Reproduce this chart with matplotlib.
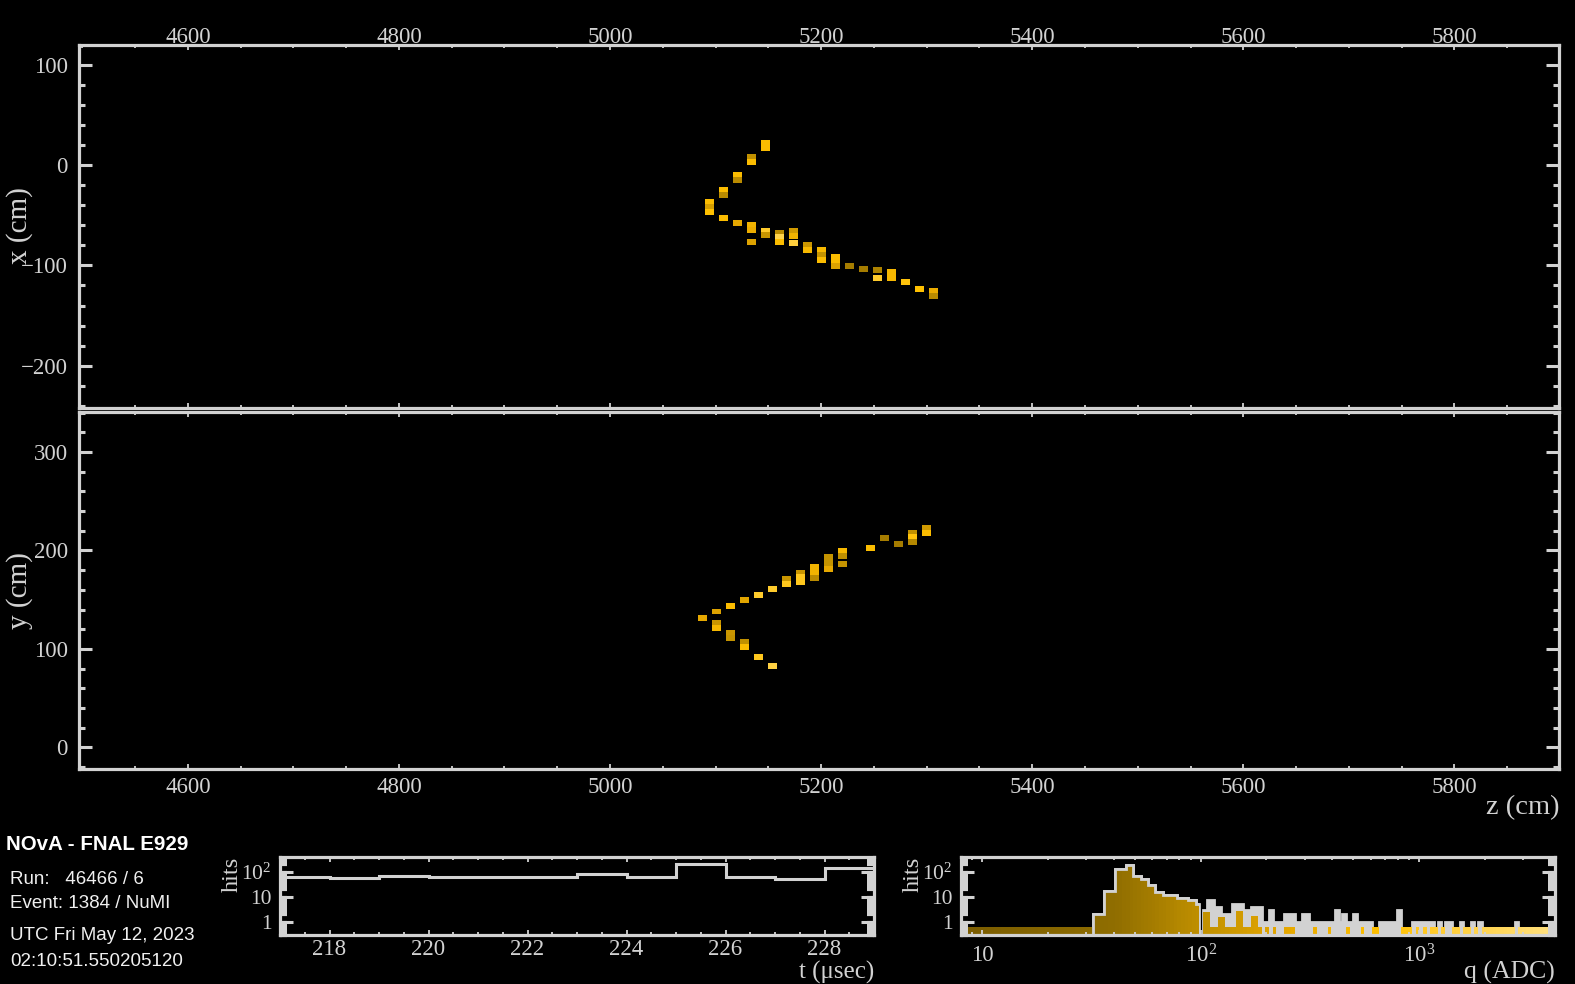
# NOvA event display: xz and yz views plus timing and charge histograms
import matplotlib
matplotlib.use("Agg")
import matplotlib.pyplot as plt
import numpy as np
from matplotlib.colors import LinearSegmentedColormap, LogNorm
from matplotlib.ticker import MultipleLocator, LogLocator, NullFormatter

W, H = 1575, 984
GREY = "#d2d2d2"
SERIF = "Liberation Serif"
SANS = "Liberation Sans"

# xz view hits: plane z, cell x, charge
xz_z = [5147.5, 5147.5, 5134.3, 5134.3, 5121.0, 5121.0, 5107.8, 5107.8, 5094.5, 5094.5, 5094.5,
        5107.8, 5121.0, 5134.3, 5134.3, 5134.3, 5147.5, 5147.5, 5160.8, 5160.8, 5160.8,
        5174.0, 5174.0, 5174.0, 5187.3, 5187.3, 5200.6, 5200.6, 5200.6, 5213.8, 5213.8, 5213.8,
        5227.0, 5240.3, 5253.6, 5253.6, 5266.8, 5266.8, 5280.0, 5293.3, 5306.6, 5306.6]
xz_x = [22.2, 17.7, 8.0, 3.1, -9.9, -14.3, -24.3, -29.3, -36.6, -41.3, -46.3,
        -52.6, -57.6, -60.0, -65.0, -76.6, -65.6, -69.6, -67.6, -72.0, -77.0,
        -66.0, -71.0, -77.6, -79.6, -84.3, -84.6, -89.3, -94.3, -92.0, -96.3, -100.6,
        -101.0, -104.0, -105.0, -113.0, -107.0, -112.3, -117.0, -123.6, -125.0, -130.0]
xz_q = [600, 600, 100, 600, 600, 90, 600, 90, 600, 170, 700,
        600, 250, 400, 300, 200, 1200, 120, 90, 1800, 600,
        150, 400, 1500, 130, 500, 500, 110, 600, 600, 600, 200,
        60, 60, 70, 1200, 500, 500, 800, 700, 300, 90]

# yz view hits
yz_z = [5088.0, 5101.3, 5101.3, 5101.3, 5114.5, 5114.5, 5114.5, 5127.8, 5127.8, 5127.8,
        5141.0, 5141.0, 5154.3, 5154.3, 5167.6, 5167.6, 5180.8, 5180.8, 5180.8,
        5194.0, 5194.0, 5194.0, 5207.3, 5207.3, 5207.3, 5220.6, 5220.6, 5220.6,
        5247.0, 5260.3, 5273.6, 5286.8, 5286.8, 5286.8, 5300.0, 5300.0]
yz_y = [131.6, 138.0, 125.9, 121.5, 143.2, 115.7, 110.6, 149.2, 106.6, 101.8,
        154.3, 91.3, 160.8, 82.2, 170.6, 165.5, 177.4, 172.6, 168.2,
        182.8, 177.7, 171.6, 193.0, 186.9, 180.8, 199.0, 194.3, 186.2,
        202.4, 212.6, 206.2, 217.7, 213.6, 208.9, 222.8, 218.0]
yz_q = [250, 200, 130, 500, 600, 130, 110, 220, 100, 600,
        1200, 1000, 1200, 1600, 130, 1000, 130, 1000, 1000,
        400, 400, 90, 110, 110, 250, 500, 100, 110,
        600, 60, 60, 100, 800, 80, 150, 600]

# hits vs time, one bin per usec
t_edges = [217, 218, 219, 220, 221, 222, 223, 224, 225, 226, 227, 228, 229]
t_hits = [63, 54, 67, 60, 64, 64, 83, 61, 197, 64, 50, 137]

# hits vs charge: all hits (grey) and hits in the window (coloured)
q_all = ([0] * 36 + [2] * 3 + [17] * 3 + [128] * 3 + [186] * 2 + [69] * 2 + [51] * 2 + [29] * 2
         + [16] * 2 + [12] * 4 + [9] * 3 + [7] * 2 + [5] + [0] + [3] + [7] * 2 + [4] * 2 + [2] * 3
         + [5] * 3 + [3] * 2 + [4] * 3 + [1] * 2 + [3] + [1] * 3 + [2] * 3 + [1] * 2 + [2] * 2
         + [1] * 7 + [3] + [1] + [2] + [1] * 2 + [2] + [1] * 4 + [0] * 2 + [1] * 5 + [3] + [0] * 3
         + [1] * 6 + [0] + [1] + [0] + [1] * 2 + [0] * 2 + [1] + [0] * 2 + [1] + [0] + [1]
         + [0] * 9 + [1] + [0] * 10)
F = 0.58  # level the coloured histogram is drawn at for low bins
q_sel = ([F] * 36 + [2] * 3 + [17] * 3 + [128] * 3 + [186] * 2 + [69] * 2 + [51] * 2 + [29] * 2
         + [16] * 2 + [12] * 4 + [9] * 3 + [7] * 2 + [5] + [0] + [2.5] * 2 + [F] * 2 + [1.5] * 2
         + [F] * 3 + [2.7] * 2 + [F] * 2 + [1.6] * 2 + [F] + [0] + [F] + [0] + [F] + [0] * 2
         + [F] * 3 + [0] * 3 + [0] * 2 + [F] + [0] * 3 + [F] + [0] * 4 + [F] + [0] * 3 + [F] + [0] * 2
         + [F] * 2 + [0] * 6 + [F] * 3 + [0, F] * 3 + [F] + [0]
         + [F] + [0] * 2 + [F] * 2 + [0] + [F] * 2 + [0] + [F] + [0] + [F] * 9 + [0] + [F] * 10)
q_edges = np.geomspace(8, 4190, len(q_all) + 1)

plt.rcParams["font.family"] = [SERIF, "DejaVu Serif"]
plt.rcParams["mathtext.fontset"] = "custom"
plt.rcParams["mathtext.rm"] = SERIF
plt.rcParams["mathtext.default"] = "rm"

cmap = LinearSegmentedColormap.from_list("charge", [
    (0.0, "#7a5c00"), (0.257, "#8f6d00"), (0.4035, "#c09000"), (0.55, "#e6a800"),
    (0.715, "#ffc000"), (0.84, "#ffd040"), (1.0, "#ffe080")])
norm = LogNorm(8, 4190)


def px_axes(fig, left, right, top, bottom):
    return fig.add_axes([left / W, 1 - bottom / H, (right - left) / W, (bottom - top) / H])


def px_text(fig, x, y, s, **kw):
    kw.setdefault("color", GREY)
    kw.setdefault("va", "center")
    return fig.text(x / W, 1 - y / H, s, **kw)


def style(ax, ysize=16.5, ylen=(9.5, 4.5), ywidth=2.2, yminwidth=2.2):
    ax.set_facecolor("black")
    for sp in ax.spines.values():
        sp.set_color(GREY)
        sp.set_linewidth(2.3)
    ax.tick_params(axis="x", which="major", direction="in", top=True, bottom=True, length=3.5,
                   width=1.3, color=GREY, labelcolor=GREY, labelsize=16.5)
    ax.tick_params(axis="x", which="minor", direction="in", top=True, bottom=True, length=2.5,
                   width=1.3, color=GREY)
    ax.tick_params(axis="y", which="major", direction="in", left=True, right=True, length=ylen[0],
                   width=ywidth, color=GREY, labelcolor=GREY, labelsize=ysize, pad=8)
    ax.tick_params(axis="y", which="minor", direction="in", left=True, right=True, length=ylen[1],
                   width=yminwidth, color=GREY)


def draw_hits(ax, z, v, q):
    z = np.array(z)
    v = np.array(v)
    ax.bar(z, 6.0, width=8.5, bottom=v - 3.0, color=cmap(norm(np.array(q))), linewidth=0)


fig = plt.figure(figsize=(W / 100, H / 100), dpi=100, facecolor="black")

ax_x = px_axes(fig, 79, 1559, 45.5, 408)
ax_y = px_axes(fig, 79, 1559, 412, 769)
for ax, ylim, ymaj in ((ax_x, (-242.4, 119.8), [-200, -100, 0, 100]), (ax_y, (-22, 340.6), [0, 100, 200, 300])):
    style(ax)
    ax.set_xlim(4496.9, 5899)
    ax.set_ylim(*ylim)
    ax.set_yticks(ymaj)
    ax.xaxis.set_major_locator(MultipleLocator(200))
    ax.xaxis.set_minor_locator(MultipleLocator(50))
    ax.yaxis.set_minor_locator(MultipleLocator(20))
draw_hits(ax_x, xz_z, xz_x, xz_q)
draw_hits(ax_y, yz_z, yz_y, yz_q)
ax_x.tick_params(axis="x", which="major", labeltop=True, labelbottom=False, pad=-1.5)
ax_y.tick_params(axis="x", which="major", pad=5.5)

px_text(fig, 20, 226, "x (cm)", rotation=90, ha="center", fontsize=21)
px_text(fig, 20, 591, "y (cm)", rotation=90, ha="center", fontsize=21)
px_text(fig, 1559, 808, "z (cm)", ha="right", fontsize=20.5)

# time histogram
ax_t = px_axes(fig, 280, 874, 857, 935)
ax_q = px_axes(fig, 961, 1555, 857, 935)
for ax in (ax_t, ax_q):
    style(ax, ysize=15.5, ylen=(9.5, 5), yminwidth=3)
    ax.set_yscale("log")
    ax.set_ylim(0.29, 387)
    ax.set_yticks([1, 10, 100], ["1", "10", "$10^{2}$"])
    ax.yaxis.set_minor_locator(LogLocator(10, subs=np.arange(2, 10), numticks=10))
    ax.yaxis.set_minor_formatter(NullFormatter())
    ax.tick_params(axis="y", which="major", pad=6)
    ax.tick_params(axis="x", which="major", pad=3)

ax_t.stairs(t_hits, t_edges, color=GREY, linewidth=2.2, baseline=None)
ax_t.set_xlim(217, 229)
ax_t.xaxis.set_major_locator(MultipleLocator(2))
ax_t.xaxis.set_minor_locator(MultipleLocator(0.5))
px_text(fig, 874, 972, "t (\u03bcsec)", ha="right", fontsize=18)
px_text(fig, 232, 874, "hits", rotation=90, ha="center", fontsize=17.5)

# charge histogram
left = q_edges[:-1]
width = np.diff(q_edges)
centre = np.sqrt(left * q_edges[1:])
q_all = np.array(q_all, dtype=float)
q_sel = np.array(q_sel, dtype=float)
ymin = 0.29
on = q_all > 0
ax_q.bar(left[on], q_all[on] - ymin, width=width[on], bottom=ymin, align="edge", color=GREY, linewidth=0)
ax_q.stairs(np.maximum(q_all, ymin), q_edges, color=GREY, linewidth=2.0, baseline=None)
on = q_sel > 0
ax_q.bar(left[on], q_sel[on] - ymin, width=width[on], bottom=ymin, align="edge",
         color=cmap(norm(centre[on])), linewidth=0)
ax_q.stairs(np.maximum(q_all, ymin)[:65], q_edges[:66], color=GREY, linewidth=2.0, baseline=None)
ax_q.set_xscale("log")
ax_q.set_xlim(8, 4190)
ax_q.set_xticks([10, 100, 1000], ["10", "$10^{2}$", "$10^{3}$"])
ax_q.xaxis.set_minor_locator(LogLocator(10, subs=np.arange(2, 10), numticks=10))
ax_q.xaxis.set_minor_formatter(NullFormatter())
ax_q.tick_params(axis="x", which="major", pad=7)
px_text(fig, 1555, 972, "q (ADC)", ha="right", fontsize=18.5)
px_text(fig, 913, 874, "hits", rotation=90, ha="center", fontsize=17.5)

# run information
px_text(fig, 6, 845, "NOvA - FNAL E929", family=SANS, weight="bold", fontsize=14.8, color="white")
px_text(fig, 10, 879, "Run:   46466 / 6", family=SANS, fontsize=13.5, color="#f0f0f0")
px_text(fig, 10, 903, "Event: 1384 / NuMI", family=SANS, fontsize=13.5, color="#f0f0f0")
px_text(fig, 10, 936, "UTC Fri May 12, 2023", family=SANS, fontsize=13.5, color="#f0f0f0")
px_text(fig, 10, 961, "02:10:51.550205120", family=SANS, fontsize=13.5, color="#f0f0f0")

fig.savefig("out.png", dpi=100, facecolor="black")
